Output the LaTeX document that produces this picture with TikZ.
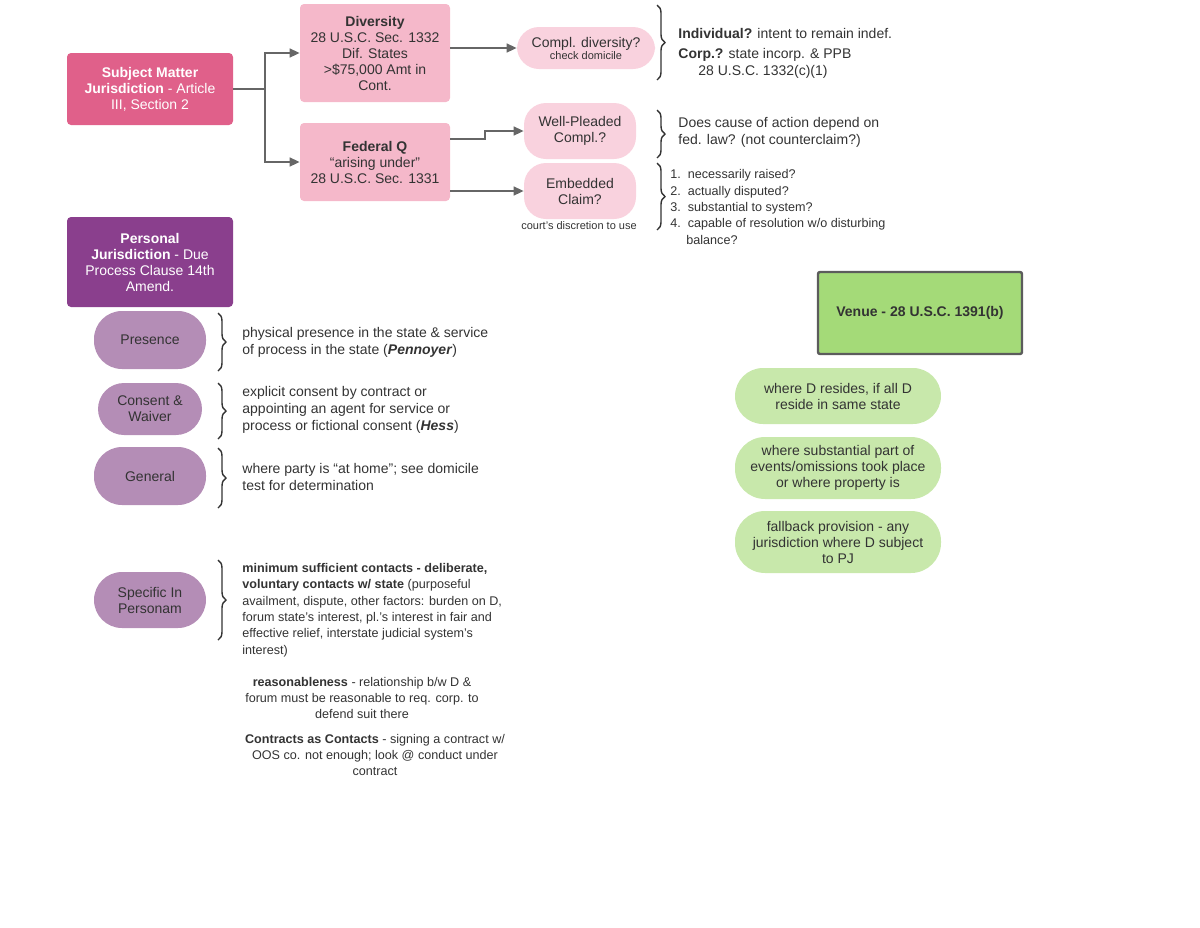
\documentclass[tikz,border=0pt]{standalone}
\usepackage{fontspec}
\setmainfont{Liberation Sans}
\usetikzlibrary{arrows.meta, positioning, decorations.pathreplacing}
\definecolor{smj}{HTML}{E0608A}
\definecolor{pinkbox}{HTML}{F5B8CA}
\definecolor{pinkpill}{HTML}{F9D2DE}
\definecolor{pj}{HTML}{8A3F8D}
\definecolor{mauve}{HTML}{B48DB6}
\definecolor{venue}{HTML}{A4DA78}
\definecolor{greenpill}{HTML}{C8E8AB}
\definecolor{txt}{HTML}{333333}
\tikzset{
  box/.style={rectangle, rounded corners=2pt, align=center, font=\fontsize{7}{8}\selectfont, text=txt},
  pill/.style={rectangle, rounded corners=11pt, align=center, font=\fontsize{7}{8}\selectfont, text=txt},
  note/.style={align=left, anchor=west, font=\fontsize{7}{8.6}\selectfont, text=txt, inner sep=0pt},
  conn/.style={draw=gray!80!black, line width=0.8pt, -{Triangle[length=5pt, width=4.5pt]}},
  brc/.style={draw=txt, line width=0.7pt, decorate, decoration={brace, amplitude=4pt}}
}
\begin{document}
\begin{tikzpicture}[x=0.5pt, y=-0.5pt]
        \useasboundingbox (0,0) rectangle (1200,927);
        % subject matter jurisdiction
        \node[box, fill=smj, text=white, minimum width=83pt, minimum height=36pt] (smj) at (150,89)
          {\textbf{Subject Matter}\\\textbf{Jurisdiction} - Article\\III, Section 2};
        \node[box, fill=pinkbox, minimum width=75pt, minimum height=49pt] (div) at (375,53)
          {\textbf{Diversity}\\28 U.S.C. Sec. 1332\\Dif. States\\>\$75,000 Amt in\\Cont.};
        \node[box, fill=pinkbox, minimum width=75pt, minimum height=39pt] (fedq) at (375,162)
          {\textbf{Federal Q}\\``arising under''\\28 U.S.C. Sec. 1331};
        \draw[conn] (smj.east) -- (265,89) |- (div.west);
        \draw[conn] (smj.east) -- (265,89) |- (fedq.west);
        \node[pill, fill=pinkpill, minimum width=69pt, minimum height=21pt] (cdiv) at (586,48)
          {Compl. diversity?\\[-2pt]{\fontsize{5.5}{6}\selectfont check domicile}};
        \node[pill, fill=pinkpill, minimum width=56pt, minimum height=28pt] (wpc) at (580,131) {Well-Pleaded\\Compl.?};
        \node[pill, fill=pinkpill, minimum width=56pt, minimum height=28pt] (emb) at (580,191) {Embedded\\Claim?};
        \node[font=\fontsize{5.5}{6}\selectfont, text=txt] (disc) at (579,226) {court's discretion to use};
        \draw[conn] (div.east |- cdiv) -- (cdiv.west);
        \draw[conn] (fedq.east |- 0,139) -- (485,139) |- (wpc.west);
        \draw[conn] (fedq.east |- emb) -- (emb.west);
        % braces for SMJ
        \draw[brc] (657,5) -- (657,80);
        \draw[brc] (657,110) -- (657,158);
        \draw[brc] (657,163) -- (657,230);
        \node[note] (ind) at (678,33) {\textbf{Individual?} intent to remain indef.};
        \node[note] (corp) at (678,55) {\textbf{Corp.?} state incorp. \& PPB};
        \node[note] (code) at (698,72) {28 U.S.C. 1332(c)(1)};
        \node[note] (cause) at (678,132) {Does cause of action depend on\\fed. law? (not counterclaim?)};
        \node[note, font=\fontsize{6.3}{8.2}\selectfont] (list) at (670,207)
          {1.\ \ necessarily raised?\\2.\ \ actually disputed?\\3.\ \ substantial to system?\\4.\ \ capable of resolution w/o disturbing\\\hspace*{8pt}balance?};
        % personal jurisdiction
        \node[box, fill=pj, text=white, minimum width=83pt, minimum height=45pt] (pjur) at (150,262)
          {\textbf{Personal}\\\textbf{Jurisdiction} - Due\\Process Clause 14th\\Amend.};
        \node[pill, fill=mauve, minimum width=56pt, minimum height=29pt, rounded corners=14pt] (pres) at (150,340) {Presence};
        \node[pill, fill=mauve, minimum width=52pt, minimum height=26pt, rounded corners=13pt] (cons) at (150,409) {Consent \&\\Waiver};
        \node[pill, fill=mauve, minimum width=56pt, minimum height=29pt, rounded corners=14pt] (gen) at (150,476) {General};
        \node[pill, fill=mauve, minimum width=56pt, minimum height=28pt, rounded corners=14pt] (spec) at (150,600) {Specific In\\Personam};
        \draw[brc] (218,313) -- (218,371);
        \draw[brc] (218,383) -- (218,439);
        \draw[brc] (218,448) -- (218,508);
        \draw[brc] (218,560) -- (218,640);
        \node[note] (prest) at (242,342) {physical presence in the state \& service\\of process in the state (\textbf{\textit{Pennoyer}})};
        \node[note] (const) at (242,410) {explicit consent by contract or\\appointing an agent for service or\\process or fictional consent (\textbf{\textit{Hess}})};
        \node[note] (gent) at (242,477) {where party is ``at home''; see domicile\\test for determination};
        \node[note, font=\fontsize{6.3}{8.2}\selectfont] (spect) at (242,610)
          {\textbf{minimum sufficient contacts - deliberate,}\\\textbf{voluntary contacts w/ state} (purposeful\\availment, dispute, other factors: burden on D,\\forum state's interest, pl.'s interest in fair and\\effective relief, interstate judicial system's\\interest)};
        \node[align=center, font=\fontsize{6.3}{8.2}\selectfont, text=txt] (reas) at (362,698)
          {\textbf{reasonableness} - relationship b/w D \&\\forum must be reasonable to req. corp. to\\defend suit there};
        \node[align=center, font=\fontsize{6.3}{8.2}\selectfont, text=txt] (contr) at (375,755)
          {\textbf{Contracts as Contacts} - signing a contract w/\\OOS co. not enough; look @ conduct under\\contract};
        % venue
        \node[box, fill=venue, draw=txt!80, line width=1.2pt, rounded corners=1pt, minimum width=102pt, minimum height=41pt] (ven) at (920,313)
          {\textbf{Venue - 28 U.S.C. 1391(b)}};
        \node[pill, fill=greenpill, minimum width=103pt, minimum height=28pt, rounded corners=14pt] (v1) at (838,396) {where D resides, if all D\\reside in same state};
        \node[pill, fill=greenpill, minimum width=103pt, minimum height=31pt, rounded corners=15pt] (v2) at (838,468) {where substantial part of\\events/omissions took place\\or where property is};
        \node[pill, fill=greenpill, minimum width=103pt, minimum height=31pt, rounded corners=15pt] (v3) at (838,542) {fallback provision - any\\jurisdiction where D subject\\to PJ};
\end{tikzpicture}
\end{document}
